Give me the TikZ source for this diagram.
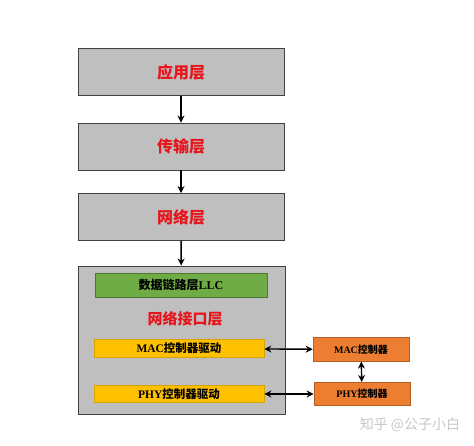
\documentclass[tikz,border=0pt]{standalone}
\usepackage{fontspec}
\setmainfont{Liberation Serif}
\newfontfamily\cjk{Noto Sans CJK SC}
\usepackage{tikz}
\usetikzlibrary{arrows.meta}
\definecolor{layergray}{HTML}{BFBFBF}
\definecolor{llcgreen}{HTML}{6FAC46}
\definecolor{drvyellow}{HTML}{FFC000}
\definecolor{ctlorange}{HTML}{ED7D31}
\definecolor{layerred}{HTML}{E8141C}
\begin{document}
\begin{tikzpicture}[x=1pt,y=-1pt,>={Stealth[length=7pt,width=7pt]},
  layer/.style={draw=black!75,fill=layergray,line width=0.9pt,minimum width=206pt,minimum height=47pt,inner sep=0pt,font=\cjk\bfseries\fontsize{16}{16}\selectfont,text=layerred},
  llc/.style={draw=llcgreen!70!black,fill=llcgreen,line width=0.7pt,minimum width=172pt,minimum height=24pt,inner sep=0pt,font=\bfseries\fontsize{12}{12}\selectfont},
  drv/.style={draw=drvyellow!85!black,fill=drvyellow,line width=0.6pt,minimum width=170pt,minimum height=17.5pt,inner sep=0pt,font=\bfseries\fontsize{11.5}{11.5}\selectfont},
  ctl/.style={draw=ctlorange!75!black,fill=ctlorange,line width=0.6pt,minimum width=96pt,minimum height=23.5pt,inner sep=0pt,font=\bfseries\fontsize{10}{10}\selectfont},
  link/.style={line width=1.4pt}]
\useasboundingbox (0,0) rectangle (474,446);
\node at (181,72) [layer](app){应用层};
\node at (181,146.5) [layer](trans){传输层};
\node at (181,217) [layer](net){网络层};
\node at (181.5,340) [layer,minimum width=207pt,minimum height=148pt](nif){};
\node at (181,285) [llc](llc){{\cjk 数据链路层}LLC};
\node at (185,319) [font=\cjk\bfseries\fontsize{15}{15}\selectfont,text=layerred](niflabel){网络接口层};
\node at (179,348.5) [drv](macdrv){MAC{\cjk 控制器驱动}};
\node at (179,394) [drv](phydrv){PHY{\cjk 控制器驱动}};
\node at (361,349.5) [ctl](macctl){MAC{\cjk 控制器}};
\node at (362,394) [ctl](phyctl){PHY{\cjk 控制器}};
\node at (410,425) [font=\cjk\fontsize{14}{14}\selectfont,text=black!22](mark){知乎 @公子小白};
\draw[link,->](app) -- (trans);
\draw[link,->](trans) -- (net);
\draw[link,->](net) -- (nif);
\draw[link,<->](macdrv) -- (macctl);
\draw[link,<->](phydrv) -- (phyctl);
\draw[link,<->](macctl) -- (phyctl);
\end{tikzpicture}
\end{document}
